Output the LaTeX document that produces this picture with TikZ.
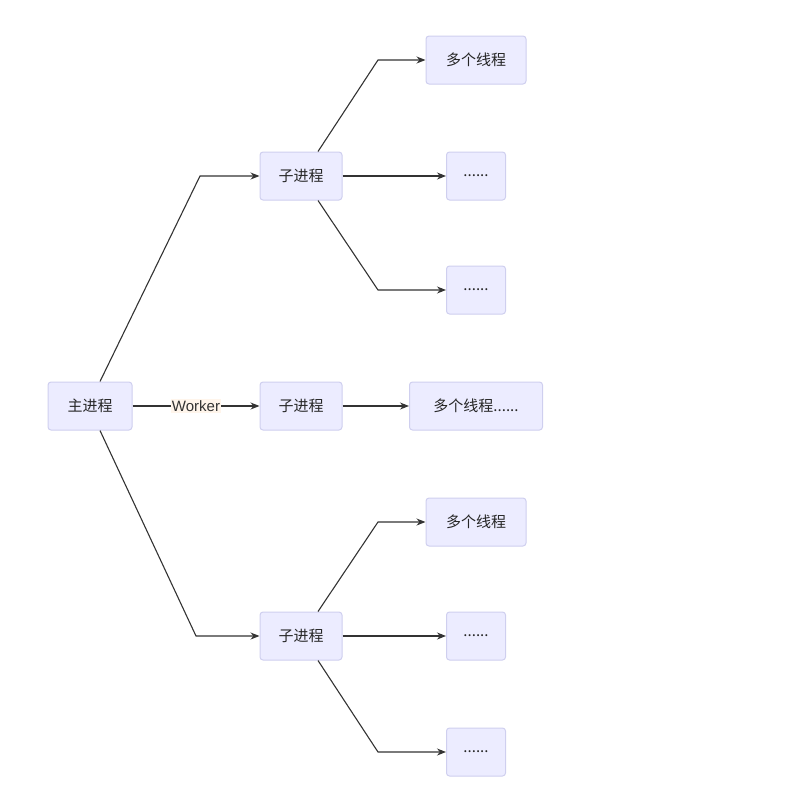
\documentclass[tikz,border=0pt]{standalone}
\usepackage{fontspec}
\setmainfont{Liberation Sans}
\newfontfamily\cjk{Noto Sans CJK SC}
\usetikzlibrary{arrows.meta}
\definecolor{nfill}{HTML}{ECECFF}
\definecolor{nline}{HTML}{CFCFEF}
\definecolor{eline}{HTML}{333333}
\begin{document}
\begin{tikzpicture}[x=1pt,y=-1pt,
  box/.style={draw=nline,fill=nfill,rounded corners=3pt,line width=1pt,minimum height=48pt,inner xsep=0pt,font=\cjk\fontsize{15}{18}\selectfont,text=black!85},
  conn/.style={draw=eline,line width=1.1pt,-{Stealth[length=9pt,width=7pt]}}]
\useasboundingbox (0,0) rectangle (787,793);
\node[box,minimum width=84pt] (m) at (90,406) {主进程};
\node[box,minimum width=82pt] (c1) at (301,176) {子进程};
\node[box,minimum width=82pt] (c2) at (301,406) {子进程};
\node[box,minimum width=82pt] (c3) at (301,636) {子进程};
\node[box,minimum width=100pt] (t1) at (476,60) {多个线程};
\node[box,minimum width=59pt] (d1) at (476,176) {......};
\node[box,minimum width=59pt] (d2) at (476,290) {......};
\node[box,minimum width=133pt] (t2) at (476,406) {多个线程......};
\node[box,minimum width=100pt] (t3) at (476,522) {多个线程};
\node[box,minimum width=59pt] (d3) at (476,636) {......};
\node[box,minimum width=59pt] (d4) at (476,752) {......};
\coordinate (k1) at (200,176);
\coordinate (k3) at (196,636);
\coordinate (a1) at (378,60);
\coordinate (a2) at (378,290);
\coordinate (a3) at (378,522);
\coordinate (a4) at (378,752);
\draw[conn] (m.north) ++(10,0) -- (k1) -- (c1.west);
\draw[conn] (m.south) ++(10,0) -- (k3) -- (c3.west);
\draw[conn] (m.east) -- node[fill=orange!8,inner sep=1pt,font=\fontsize{15}{18}\selectfont,text=black!80]{Worker} (c2.west);
\draw[conn] (c2.east) -- (t2.west);
\draw[conn] (c1.north) ++(17,0) -- (a1) -- (t1.west);
\draw[conn] (c1.east) -- (d1.west);
\draw[conn] (c1.south) ++(17,0) -- (a2) -- (d2.west);
\draw[conn] (c3.north) ++(17,0) -- (a3) -- (t3.west);
\draw[conn] (c3.east) -- (d3.west);
\draw[conn] (c3.south) ++(17,0) -- (a4) -- (d4.west);
\end{tikzpicture}
\end{document}
